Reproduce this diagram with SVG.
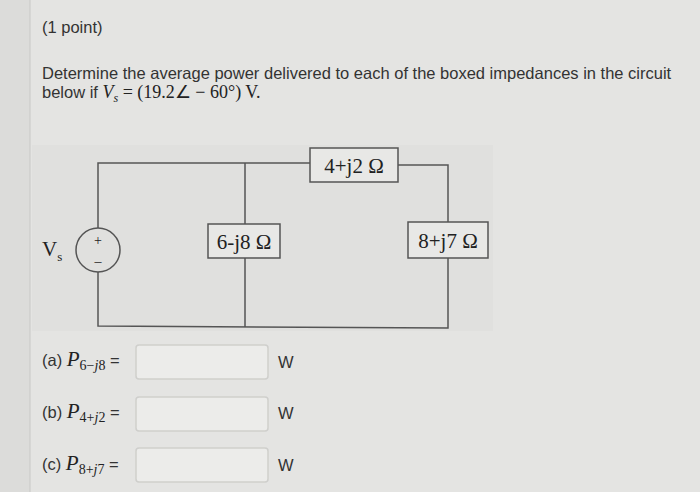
<svg xmlns="http://www.w3.org/2000/svg" width="700" height="492" viewBox="0 0 700 492">
<style>
.t{font-family:"Liberation Sans",Arial,sans-serif;font-size:16.5px;fill:#333}
.s{font-family:"Liberation Serif","Times New Roman",serif;fill:#222}
.w{fill:none;stroke:#555;stroke-width:1.5}
.b{fill:#e8e8e6;stroke:#555;stroke-width:1.5}
.in{fill:#ececea;stroke:#cfcfcc;stroke-width:1.5}
</style>
<rect width="700" height="492" fill="#dcdcda"/>
<rect x="30" y="0" width="670" height="492" fill="#e4e4e2"/>
<line x1="30" y1="0" x2="30" y2="492" stroke="#c8c8c6"/>
<text class="t" x="42" y="33">(1 point)</text>
<text class="t" x="42" y="79">Determine the average power delivered to each of the boxed impedances in the circuit</text>
<text class="t" x="42" y="98">below if <tspan class="s" font-style="italic" font-size="18">V</tspan><tspan class="s" font-style="italic" font-size="12" dy="4">s</tspan><tspan class="s" font-size="18" dy="-4"> = (19.2∠ − 60°) V.</tspan></text>
<rect x="32" y="145" width="461" height="186" fill="#e0e0de"/>
<g id="connectors">
<polyline class="w" points="98,228 98,163 310,163"/>
<polyline class="w" points="398,165 448,165 448,222"/>
<polyline class="w" points="98,272 98,326 448,328 448,258"/>
<line class="w" x1="245" y1="163" x2="245" y2="224"/>
<line class="w" x1="245" y1="258" x2="245" y2="327"/>
</g>
<g id="source">
<circle class="w" cx="98" cy="250" r="22"/>
<text class="s" x="98" y="245" font-size="14" text-anchor="middle">+</text>
<text class="s" x="98" y="266" font-size="14" text-anchor="middle">–</text>
<text class="s" x="42" y="256" font-size="21">V<tspan font-size="13" dy="5">s</tspan></text>
</g>
<g id="z1"><rect class="b" x="310" y="148" width="88" height="34"/><text class="s" x="354" y="173" font-size="21" text-anchor="middle">4+j2 Ω</text></g>
<g id="z2"><rect class="b" x="208" y="224" width="72" height="34"/><text class="s" x="244" y="249" font-size="21" text-anchor="middle">6-j8 Ω</text></g>
<g id="z3"><rect class="b" x="408" y="222" width="80" height="36"/><text class="s" x="448" y="248" font-size="21" text-anchor="middle">8+j7 Ω</text></g>
<text class="t" x="42" y="366">(a) <tspan class="s" font-style="italic" font-size="21">P</tspan><tspan class="s" font-size="14" dy="4">6−<tspan font-style="italic">j</tspan>8</tspan><tspan dy="-4"> =</tspan></text>
<text class="t" x="42" y="418">(b) <tspan class="s" font-style="italic" font-size="21">P</tspan><tspan class="s" font-size="14" dy="4">4+<tspan font-style="italic">j</tspan>2</tspan><tspan dy="-4"> =</tspan></text>
<text class="t" x="42" y="470">(c) <tspan class="s" font-style="italic" font-size="21">P</tspan><tspan class="s" font-size="14" dy="4">8+<tspan font-style="italic">j</tspan>7</tspan><tspan dy="-4"> =</tspan></text>
<rect class="in" x="136" y="345" width="132" height="34" rx="3"/>
<rect class="in" x="136" y="397" width="132" height="34" rx="3"/>
<rect class="in" x="136" y="448" width="132" height="34" rx="3"/>
<text class="t" x="278" y="368">W</text>
<text class="t" x="278" y="419">W</text>
<text class="t" x="278" y="471">W</text>
</svg>
